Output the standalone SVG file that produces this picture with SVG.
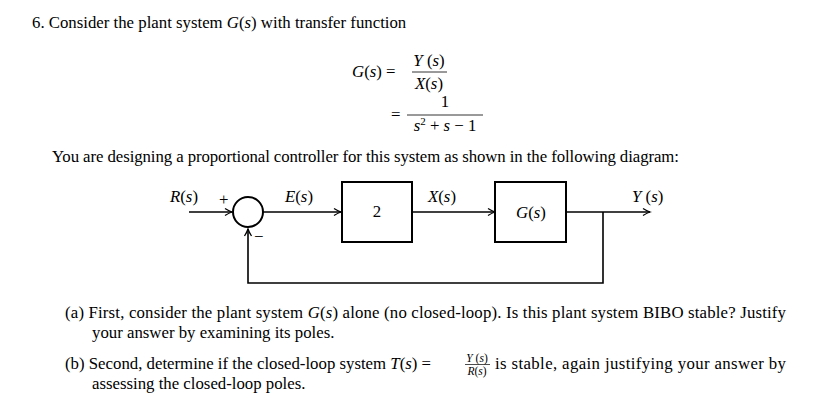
<svg xmlns="http://www.w3.org/2000/svg" width="818" height="400" viewBox="0 0 818 400">
<style>
text{font-family:"Liberation Serif","DejaVu Serif",serif;font-size:16.8px;fill:#000}
.i{font-style:italic}
.s{font-size:11px}
.f{font-size:11.5px}
.ln{stroke:#000;stroke-width:1.6;fill:none}
.bx{stroke:#000;stroke-width:2;fill:#fff}
</style>
<defs><marker id="a" markerWidth="10" markerHeight="10" refX="8" refY="5" orient="auto" markerUnits="userSpaceOnUse"><path d="M1,1.5 Q5,4 8,5 Q5,6 1,8.5" fill="none" stroke="#000" stroke-width="1.3"/></marker></defs>
<rect width="818" height="400" fill="#fff"/>
<text x="32" y="28">6. Consider the plant system <tspan class="i">G</tspan>(<tspan class="i">s</tspan>) with transfer function</text>
<text x="352" y="77"><tspan class="i">G</tspan>(<tspan class="i">s</tspan>) =</text>
<text x="429" y="66" text-anchor="middle"><tspan class="i">Y</tspan> (<tspan class="i">s</tspan>)</text>
<line x1="412" y1="72" x2="447" y2="72" stroke="#000" stroke-width="0.8"/>
<text x="429" y="89" text-anchor="middle"><tspan class="i">X</tspan>(<tspan class="i">s</tspan>)</text>
<text x="391" y="120">=</text>
<text x="445" y="107" text-anchor="middle">1</text>
<line x1="407" y1="115" x2="483" y2="115" stroke="#000" stroke-width="0.8"/>
<text x="445" y="131" text-anchor="middle"><tspan class="i">s</tspan><tspan class="s" dy="-6">2</tspan><tspan dy="6"> + </tspan><tspan class="i">s</tspan> − 1</text>
<text x="52" y="162" textLength="627" lengthAdjust="spacing">You are designing a proportional controller for this system as shown in the following diagram:</text>
<g id="connectors">
<line class="ln" x1="189" y1="212" x2="232" y2="212" marker-end="url(#a)"/>
<line class="ln" x1="263" y1="212" x2="341" y2="212" marker-end="url(#a)"/>
<line class="ln" x1="412" y1="212" x2="495" y2="212" marker-end="url(#a)"/>
<line class="ln" x1="566" y1="212" x2="650" y2="212" marker-end="url(#a)"/>
<polyline class="ln" points="603,212 603,283 248,283 248,229" marker-end="url(#a)"/>
</g>
<g id="sum"><circle cx="248" cy="212" r="15" class="bx"/></g>
<g id="k"><rect x="342" y="182" width="70" height="60" class="bx"/><text x="377" y="217" text-anchor="middle">2</text></g>
<g id="g"><rect x="495" y="182" width="71" height="60" class="bx"/><text x="531" y="218" text-anchor="middle"><tspan class="i">G</tspan>(<tspan class="i">s</tspan>)</text></g>
<text x="170" y="202"><tspan class="i">R</tspan>(<tspan class="i">s</tspan>)</text>
<text x="219" y="205">+</text>
<text x="285" y="202"><tspan class="i">E</tspan>(<tspan class="i">s</tspan>)</text>
<text x="428" y="202"><tspan class="i">X</tspan>(<tspan class="i">s</tspan>)</text>
<text x="632" y="202"><tspan class="i">Y</tspan> (<tspan class="i">s</tspan>)</text>
<text x="254" y="242">−</text>
<text x="65" y="318" textLength="721" lengthAdjust="spacing">(a)  First, consider the plant system <tspan class="i">G</tspan>(<tspan class="i">s</tspan>) alone (no closed-loop). Is this plant system BIBO stable? Justify</text>
<text x="92" y="338">your answer by examining its poles.</text>
<text x="65" y="369">(b)  Second, determine if the closed-loop system <tspan class="i">T</tspan>(<tspan class="i">s</tspan>)  =</text>
<text x="477" y="362" text-anchor="middle" class="f"><tspan class="i">Y</tspan> (<tspan class="i">s</tspan>)</text>
<line x1="465" y1="364.5" x2="490" y2="364.5" stroke="#000" stroke-width="0.7"/>
<text x="477" y="375" text-anchor="middle" class="f"><tspan class="i">R</tspan>(<tspan class="i">s</tspan>)</text>
<text x="495" y="369" textLength="291" lengthAdjust="spacing">is stable, again justifying your answer by</text>
<text x="92" y="389">assessing the closed-loop poles.</text>
</svg>
